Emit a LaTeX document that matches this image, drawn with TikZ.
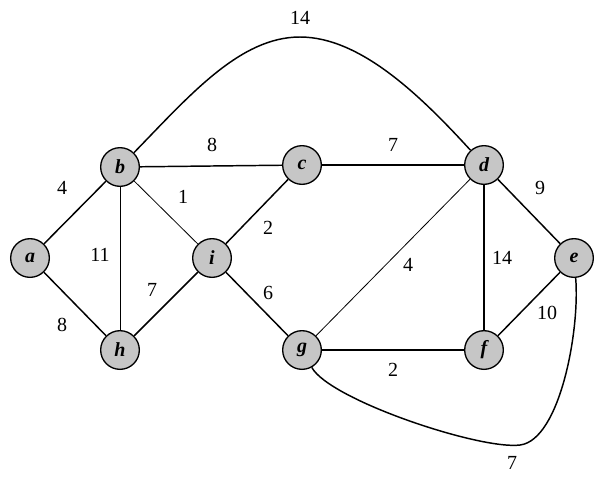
\documentclass[tikz,border=0pt]{standalone}
\usepackage{fontspec}
\setmainfont{Liberation Serif}
\begin{document}
\begin{tikzpicture}[x=0.75pt,y=-0.75pt,
  vtx/.style={circle,draw,line width=1pt,fill=gray!45,minimum size=29pt,inner sep=0pt,font=\fontsize{15}{17}\selectfont\itshape\bfseries},
  wl/.style={font=\fontsize{15}{17}\selectfont},
  thk/.style={line width=1.1pt},
  thn/.style={line width=0.6pt}]
\useasboundingbox (0,0) rectangle (605,480);
\node[vtx] (a) at (30,258) {a};
\node[vtx] (b) at (120,167) {b};
\node[vtx] (c) at (302,165) {c};
\node[vtx] (d) at (484,165) {d};
\node[vtx] (e) at (574,258) {e};
\node[vtx] (h) at (120,350) {h};
\node[vtx] (i) at (212,258) {i};
\node[vtx] (g) at (302,350) {g};
\node[vtx] (f) at (484,350) {f};
\coordinate (top) at (300,37);
\draw[thk] (b) .. controls (190,95) and (240,37) .. (top) .. controls (360,37) and (420,95) .. (d);
\draw[thk] (b) -- (c); \draw[thk] (c) -- (d);
\draw[thk] (a) -- (b); \draw[thk] (a) -- (h);
\draw[thn] (b) -- (h); \draw[thn] (b) -- (i);
\draw[thk] (i) -- (c); \draw[thk] (i) -- (h);
\draw[thk] (i) -- (g); \draw[thn] (g) -- (d);
\draw[thk] (d) -- (f); \draw[thk] (d) -- (e);
\draw[thk] (e) -- (f); \draw[thk] (g) -- (f);
\draw[thk] (g) .. controls (330,400) and (480,450) .. (520,445) .. controls (560,440) and (580,330) .. (e);
\node[wl] at (300,18) {14};
\node[wl] at (212,145) {8};
\node[wl] at (393,145) {7};
\node[wl] at (62,188) {4};
\node[wl] at (62,325) {8};
\node[wl] at (100,255) {11};
\node[wl] at (183,197) {1};
\node[wl] at (268,228) {2};
\node[wl] at (152,290) {7};
\node[wl] at (268,293) {6};
\node[wl] at (408,265) {4};
\node[wl] at (502,258) {14};
\node[wl] at (540,188) {9};
\node[wl] at (547,313) {10};
\node[wl] at (393,370) {2};
\node[wl] at (512,463) {7};
\end{tikzpicture}
\end{document}
